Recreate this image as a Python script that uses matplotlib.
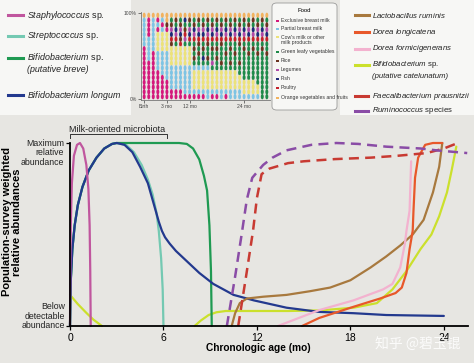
import numpy as np
import matplotlib
matplotlib.use("Agg")
import matplotlib.pyplot as plt
from matplotlib import font_manager as fm
from matplotlib.patches import Rectangle, FancyBboxPatch
from matplotlib.lines import Line2D

names = {f.name for f in fm.fontManager.ttflist}
FONT = 'Liberation Sans Narrow' if 'Liberation Sans Narrow' in names else 'Liberation Sans'
plt.rcParams['font.family'] = [FONT, 'DejaVu Sans']
plt.rcParams['mathtext.fontset'] = 'custom'
plt.rcParams['mathtext.rm'] = FONT
plt.rcParams['mathtext.it'] = FONT + ':italic'
plt.rcParams['mathtext.bf'] = FONT + ':bold'

BG = '#e7e6e2'
PANEL = '#f7f7f5'

# ---- curves: age (months) / relative abundance (0 = below detection, 1 = max)
staph_x = [0.0, 0.02, 0.05, 0.12, 0.25, 0.45, 0.64, 0.85, 1.05, 1.18, 1.26, 1.30, 1.33]
staph_y = [0.0, 0.30, 0.55, 0.78, 0.93, 0.99, 1.00, 0.97, 0.88, 0.75, 0.55, 0.30, 0.0]

longum_x = [0.0, 0.05, 0.15, 0.3, 0.5, 0.8, 1.2, 1.7, 2.2, 2.7, 3.0, 3.5, 4.0, 4.5, 5.0, 5.4,
            5.7, 5.9, 6.1, 6.4, 6.8, 7.3, 8.3, 9.2, 10.5, 11.8, 13.9, 16.0, 18.2, 20.3, 24.0]
longum_y = [0.0, 0.25, 0.42, 0.55, 0.66, 0.76, 0.85, 0.92, 0.97, 0.995, 1.0, 0.99, 0.95, 0.87,
            0.78, 0.66, 0.57, 0.52, 0.485, 0.45, 0.41, 0.37, 0.29, 0.23, 0.17, 0.14, 0.10,
            0.077, 0.07, 0.06, 0.055]

strep_x = [0.0, 0.05, 0.15, 0.3, 0.5, 0.8, 1.2, 1.7, 2.2, 2.7, 3.0, 3.6, 4.1, 4.6, 5.0, 5.3,
           5.55, 5.7, 5.85, 5.95, 6.0]
strep_y = [0.0, 0.25, 0.42, 0.55, 0.66, 0.76, 0.85, 0.92, 0.97, 0.995, 1.0, 0.99, 0.95, 0.88,
           0.80, 0.72, 0.62, 0.52, 0.37, 0.20, 0.0]

breve_x = [0.0, 0.05, 0.15, 0.3, 0.5, 0.8, 1.2, 1.7, 2.2, 2.7, 3.0, 7.0, 7.5, 7.9, 8.3, 8.6,
           8.8, 8.95, 9.05, 9.1]
breve_y = [0.0, 0.25, 0.42, 0.55, 0.66, 0.76, 0.85, 0.92, 0.97, 0.995, 1.0, 1.0, 0.995, 0.97,
           0.91, 0.82, 0.74, 0.55, 0.30, 0.0]

catel1_x = [0.0, 0.5, 1.07, 1.5, 2.05]
catel1_y = [0.17, 0.12, 0.07, 0.035, 0.0]
catel2_x = [8.0, 8.4, 8.9, 9.4, 10.0, 12.0, 14.0, 16.0, 18.2, 19.7, 20.7, 21.6, 22.5, 23.2,
            23.7, 24.2, 24.5, 24.8]
catel2_y = [0.0, 0.03, 0.06, 0.075, 0.082, 0.082, 0.082, 0.085, 0.10, 0.125, 0.20, 0.30, 0.42,
            0.50, 0.60, 0.73, 0.85, 0.98]

lacto_x = [10.38, 10.6, 10.9, 11.35, 12.4, 13.9, 15.4, 16.7, 18.0, 19.3, 20.3, 21.2, 22.0,
           22.7, 23.3, 23.7, 23.9]
lacto_y = [0.0, 0.07, 0.125, 0.15, 0.16, 0.17, 0.19, 0.21, 0.25, 0.32, 0.38, 0.44, 0.50,
           0.58, 0.73, 0.87, 1.0]

dformi_x = [13.35, 16.0, 18.2, 20.1, 20.7, 21.2, 21.5, 21.6, 21.8, 21.9]
dformi_y = [0.0, 0.087, 0.14, 0.20, 0.23, 0.32, 0.45, 0.52, 0.63, 0.90]

dlongi_x = [14.9, 16.0, 18.2, 19.9, 20.9, 21.3, 21.6, 21.8, 22.0, 22.05, 22.15, 22.35, 22.8,
            23.3, 23.9]
dlongi_y = [0.0, 0.044, 0.105, 0.15, 0.18, 0.21, 0.29, 0.42, 0.52, 0.63, 0.81, 0.92, 0.99,
            1.0, 1.0]

faecal_x = [10.8, 11.3, 11.75, 12.0, 12.3, 12.8, 14.0, 15.0, 17.0, 19.3, 21.0, 22.9, 24.0,
            24.6, 24.9]
faecal_y = [0.0, 0.27, 0.52, 0.70, 0.83, 0.86, 0.89, 0.90, 0.912, 0.92, 0.93, 0.945, 0.97,
            0.99, 1.0]

rumino_x = [10.07, 10.6, 11.0, 11.35, 11.7, 12.4, 13.0, 13.9, 15.5, 17.1, 18.5, 20.3, 22.5,
            23.5, 25.5]
rumino_y = [0.0, 0.27, 0.49, 0.69, 0.81, 0.88, 0.92, 0.96, 0.99, 1.0, 0.995, 0.98, 0.97,
            0.96, 0.945]

x_ticks = [0, 6, 12, 18, 24]

# ---- food waffle: one string per column, top row first
food_codes = ['E', 'P', 'C', 'G', 'R', 'L', 'F', 'Y', 'O']
food_labels = ['Exclusive breast milk', 'Partial breast milk', "Cow's milk or other\nmilk products",
               'Green leafy vegetables', 'Rice', 'Legumes', 'Fish', 'Poultry',
               'Orange vegetables and fruits']
food_colors = ['#d4197c', '#7ec4e4', '#ece27a', '#1f8a4a', '#6b3420', '#b04aa8', '#1e2a78',
               '#c4222a', '#f2b25e']
food_columns = [
    "OPPPPPPEEEEEEEEEEE", "OEEEEPPPPPEEEEEEEE", "OPPPPPPPEEEEEEEEEE", "OEPECCCCPPPPEEEEEE",
    "OPEPCCCCPPPPPEEEEE", "OORECCCCPPPPPPEEEE", "OGRLFYRCCCCPPPPPEE", "ORGFLYGCCCCPPPPPEE",
    "OGRLFRYCCCCPPPPPEE", "OFGRYLGCCCCPPPPPPE", "ORGLFYGCCCCPPPPPPE", "OGRFLYGRGRGPCCCCPE",
    "ORGLFYRGRGGPCCCCPE", "OGRLFYGRGFGPCCCCPE", "ORGFLYRGGRGPCCCCPP", "OGRLFYGRGGLGCCCCPE",
    "ORGFLYGRGRGGCCCCPE", "OGRLFYRGGGRGCCCCPP", "ORGFLYGGRGGGCCCCPE", "OGRLFYGRGGRGCCCCPP",
    "ORGFLYGGRGGGCCCCPP", "OGRLFYRGGGRGGCCCPP", "ORGFLYGRGGGGGGCCCP", "OGRLFYGGRGGGGGCCCP",
    "ORGFLYGRGGGGGGCCCP", "OGRLFYGGRGGGGGGCCP", "ORGFLYGRGGGGGGGGGG", "OGRLFYGGRGGGGGGGGG",
]
waffle_ticks = [0, 5, 10, 22]
waffle_ticklabels = ['Birth', '3 mo', '12 mo', '24 mo']


def fx(px):
    return px / 474


def fy(py):
    return 1 - py / 363


fig = plt.figure(figsize=(4.74, 3.63), dpi=100)
fig.patch.set_facecolor(BG)

# white legend panels
for x0, x1 in [(0, 131), (340, 474)]:
    fig.add_artist(Rectangle((fx(x0), fy(115)), fx(x1) - fx(x0), 115 / 363,
                             transform=fig.transFigure, facecolor=PANEL, edgecolor='none', zorder=0))

# ---- main chart
ax = fig.add_axes([fx(70), fy(326), fx(468) - fx(70), (326 - 143) / 363])
ax.set_facecolor('none')
ax.set_xlim(0, 25.55)
ax.set_ylim(0, 1)
for s in ['top', 'right']:
    ax.spines[s].set_visible(False)
ax.spines['left'].set_linewidth(1.3)
ax.spines['bottom'].set_linewidth(1.3)
ax.set_xticks(x_ticks)
ax.set_xticklabels([str(t) for t in x_ticks])
ax.set_yticks([0, 1])
ax.set_yticklabels(['', ''])
ax.tick_params(direction='out', length=3, width=0.9, labelsize=7.5, pad=2)

lw = 1.6
kw = dict(lw=lw, clip_on=False, solid_capstyle='round')
ax.plot(catel1_x, catel1_y, color='#cbe02c', **kw)
ax.plot(catel2_x, catel2_y, color='#cbe02c', **kw)
ax.plot(strep_x, strep_y, color='#74c9b2', **kw)
ax.plot(breve_x, breve_y, color='#1f9a52', **kw)
ax.plot(longum_x, longum_y, color='#23398e', **kw)
ax.plot(staph_x, staph_y, color='#c0569e', **kw)
ax.plot(lacto_x, lacto_y, color='#a8793e', **kw)
ax.plot(dformi_x, dformi_y, color='#f3b2cf', **kw)
ax.plot(dlongi_x, dlongi_y, color='#e8582a', **kw)
ax.plot(faecal_x, faecal_y, color='#c83a32', lw=1.8, ls=(0, (4, 2.5)), clip_on=False)
ax.plot(rumino_x, rumino_y, color='#8a4ca6', lw=1.8, ls=(0, (4, 2.5)), clip_on=False)

# milk-oriented bracket
ax.plot([0, 0, 6.25, 6.25], [1.03, 1.05, 1.05, 1.03], color='#333333', lw=0.7, clip_on=False)
ax.text(3.0, 1.075, 'Milk-oriented microbiota', ha='center', va='center', fontsize=6.5,
        color='#222222')

fig.text(fx(64), fy(139), 'Maximum\nrelative\nabundance', ha='right', va='top', fontsize=6.3,
         linespacing=1.05, color='#222222')
fig.text(fx(65), fy(330), 'Below\ndetectable\nabundance', ha='right', va='bottom', fontsize=6.3,
         linespacing=1.05, color='#222222')
fig.text(fx(12), fy(222), 'Population-survey weighted\nrelative abundances', rotation=90,
         ha='center', va='center', fontsize=8, fontweight='bold', linespacing=1.05)
fig.text(fx(258), fy(348), 'Chronologic age (mo)', ha='center', va='center', fontsize=7.3,
         fontweight='bold')

# ---- food waffle
wax = fig.add_axes([fx(141), fy(100), fx(270) - fx(141), (100 - 12) / 363])
wax.set_facecolor('none')
nrows = len(food_columns[0])
xs, ys, cs = [], [], []
for c, col in enumerate(food_columns):
    for r, ch in enumerate(col):
        xs.append(c)
        ys.append(nrows - 1 - r)
        cs.append(food_colors[food_codes.index(ch)])
t = np.linspace(0, 2 * np.pi, 30)
ell = np.column_stack([0.55 * np.cos(t), np.sin(t)])
wax.scatter(xs, ys, c=cs, marker=ell, s=15, linewidths=0)
wax.set_xlim(-0.7, len(food_columns) - 0.3)
wax.set_ylim(-0.7, nrows - 0.3)
for s in ['top', 'right']:
    wax.spines[s].set_visible(False)
for s in ['left', 'bottom']:
    wax.spines[s].set_color('#777777')
    wax.spines[s].set_linewidth(0.6)
wax.set_xticks(waffle_ticks)
wax.set_xticklabels(waffle_ticklabels)
wax.set_yticks([-0.5, nrows - 0.5])
wax.set_yticklabels(['0%', '100%'])
wax.tick_params(length=2, width=0.5, labelsize=3.6, pad=1, colors='#444444')

# food legend box
fig.add_artist(FancyBboxPatch((fx(272), fy(110)), fx(337) - fx(272), (110 - 3) / 363,
                              boxstyle='round,pad=0,rounding_size=0.01', transform=fig.transFigure,
                              facecolor=PANEL, edgecolor='#9a9a9a', lw=0.6, zorder=1))
fig.text(fx(304), fy(11), 'Food', ha='center', va='center', fontsize=4.3, zorder=2)
food_y = [21, 29, 40, 52, 61, 70, 79, 88, 98]
for lab, col, py in zip(food_labels, food_colors, food_y):
    my = py - 3 if '\n' in lab else py
    fig.add_artist(Rectangle((fx(276), fy(my + 1.3)), fx(2.6), 2.6 / 363, transform=fig.transFigure,
                             facecolor=col, edgecolor='none', zorder=2))
    fig.text(fx(281), fy(py), lab, ha='left', va='center', fontsize=3.7, linespacing=1.1,
             color='#333333', zorder=2)

# ---- species legends
left_items = [
    (15, r'$\it{Staphylococcus}$ sp.', '#c0569e', '-'),
    (36, r'$\it{Streptococcus}$ sp.', '#74c9b2', '-'),
    (58, r'$\it{Bifidobacterium}$ sp.', '#1f9a52', '-'),
    (95, r'$\it{Bifidobacterium\ longum}$', '#23398e', '-'),
]
right_items = [
    (15, r'$\it{Lactobacillus\ ruminis}$', '#a8793e', '-'),
    (32, r'$\it{Dorea\ longicatena}$', '#e8582a', '-'),
    (49, r'$\it{Dorea\ formicigenerans}$', '#f3b2cf', '-'),
    (65, r'$\it{Bifidobacterium}$ sp.', '#cbe02c', '-'),
    (96, r'$\it{Faecalibacterium\ prausnitzii}$', '#c83a32', '--'),
    (111, r'$\it{Ruminococcus}$ species', '#8a4ca6', '--'),
]
for items, x0, x1, xt, fs in [(left_items, 8, 23, 27, 6.4), (right_items, 355, 369, 372, 5.6)]:
    for py, lab, col, st in items:
        if st == '-':
            fig.add_artist(Line2D([fx(x0), fx(x1)], [fy(py), fy(py)], color=col, lw=2.2,
                                  transform=fig.transFigure))
        else:
            fig.add_artist(Line2D([fx(x0), fx(x0 + 8)], [fy(py), fy(py)], color=col, lw=2.2,
                                  transform=fig.transFigure))
            fig.add_artist(Line2D([fx(x0 + 11), fx(x0 + 13)], [fy(py), fy(py)], color=col, lw=2.2,
                                  transform=fig.transFigure))
        fig.text(fx(xt), fy(py), lab, ha='left', va='center', fontsize=fs, color='#222222')
fig.text(fx(27), fy(70), '(putative breve)', ha='left', va='center', fontsize=6.4,
         style='italic', color='#222222')
fig.text(fx(372), fy(77), '(putative catelunatum)', ha='left', va='center', fontsize=5.6,
         style='italic', color='#222222')

# watermark
fig.text(fx(418), fy(345), '知乎 @碧玉锟', ha='center', va='center', fontsize=10,
         family=['Noto Sans CJK SC', 'DejaVu Sans'], color='white', alpha=0.85)

fig.savefig('out.png', dpi=100, facecolor=BG)
